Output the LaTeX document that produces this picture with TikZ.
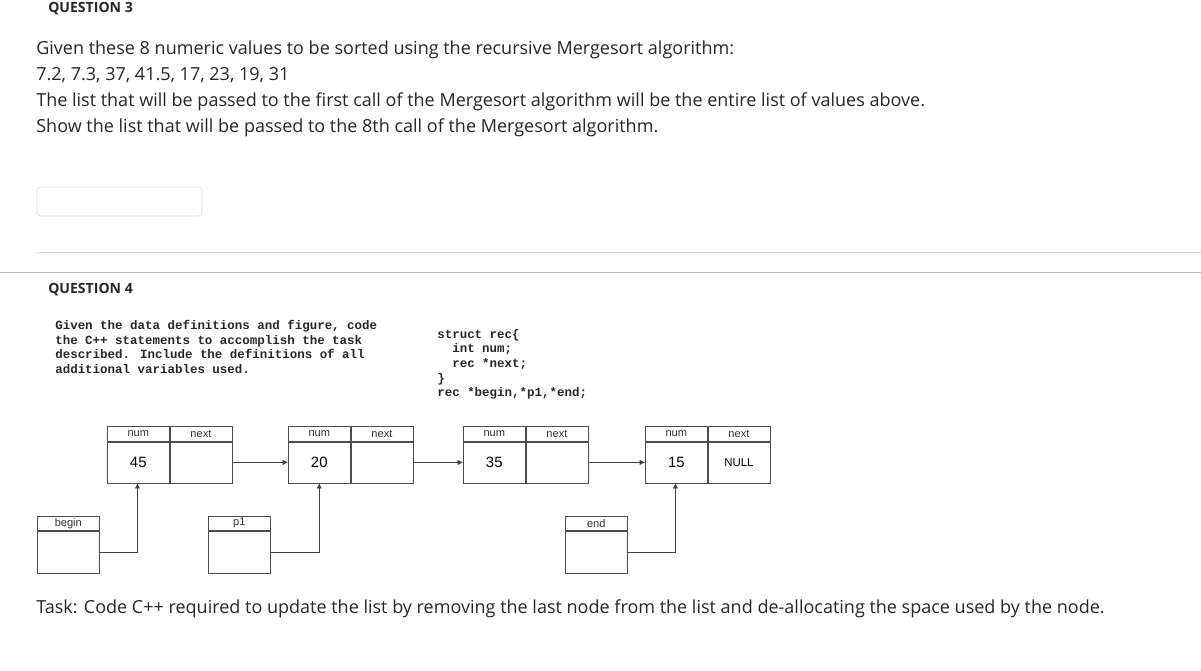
\documentclass[tikz,border=0pt]{standalone}
\usepackage{fontspec}
\setmainfont{Open Sans}
\newfontfamily\armono{Liberation Mono}
\newfontfamily\arsans{Liberation Sans}
\usetikzlibrary{arrows.meta,positioning}
\tikzset{
  para/.style={anchor=base west,inner sep=0pt,font=\fontsize{10.25pt}{12pt}\selectfont,text=black!85},
  code/.style={anchor=north west,inner sep=0pt,align=left,font=\armono\bfseries\fontsize{7.1pt}{8.3pt}\selectfont,text=black!85},
  head/.style={draw=black!70,anchor=north west,inner sep=0pt,minimum width=1.24cm,minimum height=0.3cm,font=\arsans\fontsize{6.3pt}{7pt}\selectfont,text=black!80},
  body/.style={draw=black!70,anchor=north,inner sep=0pt,minimum width=1.24cm,minimum height=0.82cm,font=\arsans\fontsize{8.5pt}{9pt}\selectfont},
  ptrhead/.style={head,minimum height=0.28cm},
  ptrbody/.style={body,minimum height=0.84cm},
  link/.style={-{Latex[length=3pt,width=3pt]},black!75}
}
\begin{document}
\begin{tikzpicture}[x=0.02cm,y=-0.02cm,line width=0.35pt]
  \useasboundingbox (0,0) rectangle (1201,671);
  % question 3
  \node[para,font=\bfseries\fontsize{8pt}{9pt}\selectfont] (q3) at (48,13) {QUESTION 3};
  \node[para] (l1) at (36,55) {Given these 8 numeric values to be sorted using the recursive Mergesort algorithm:};
  \node[para] (l2) at (36,81) {7.2, 7.3, 37, 41.5, 17, 23, 19, 31};
  \node[para] (l3) at (36,107) {The list that will be passed to the first call of the Mergesort algorithm will be the entire list of values above.};
  \node[para] (l4) at (36,133) {Show the list that will be passed to the 8th call of the Mergesort algorithm.};
  \draw[black!15,rounded corners=2pt] (37,187) rectangle (202,216);
  \draw[black!15] (36,252) -- (1201,252);
  \draw[black!25] (0,272) -- (1201,272);

  % question 4
  \node[para,font=\bfseries\fontsize{8pt}{9pt}\selectfont] (q4) at (48,294) {QUESTION 4};
  \node[code] (txt) at (55,320) {Given the data definitions and figure, code\\the C++ statements to accomplish the task\\described.  Include the definitions of all\\additional variables used.};
  \node[code] (rec) at (437,329) {struct rec\{\\\ \ int num;\\\ \ rec *next;\\\}\\rec *begin,*p1,*end;};

  % list nodes
  \foreach \nm/\x/\v/\nx in {a/107/45/,b/288/20/,c/463/35/,d/645/15/NULL} {
    \node[head] (\nm h1) at (\x,426) {num};
    \node[head,anchor=west] (\nm h2) at (\nm h1.east) {next};
    \node[body] (\nm num) at (\nm h1.south) {\v};
    \node[body,font=\arsans\fontsize{6.5pt}{7pt}\selectfont] (\nm nxt) at (\nm h2.south) {\nx};
  }
  \draw[link] (anxt.east) -- (bnum.west);
  \draw[link] (bnxt.east) -- (cnum.west);
  \draw[link] (cnxt.east) -- (dnum.west);

  % pointer boxes
  \foreach \nm/\x/\lab/\tgt/\dx in {pb/37/begin/anum/-0.5,pp/208/p1/bnum/0,pe/565/end/dnum/-0.5} {
    \node[ptrhead] (\nm h) at (\x,516) {\lab};
    \node[ptrbody] (\nm) at (\nm h.south) {};
    \draw[link] (\nm.east) -| ([xshift=\dx pt]\tgt.south);
  }

  \node[para] (task) at (36,614) {Task: Code C++ required to update the list by removing the last node from the list and de-allocating the space used by the node.};
\end{tikzpicture}
\end{document}
